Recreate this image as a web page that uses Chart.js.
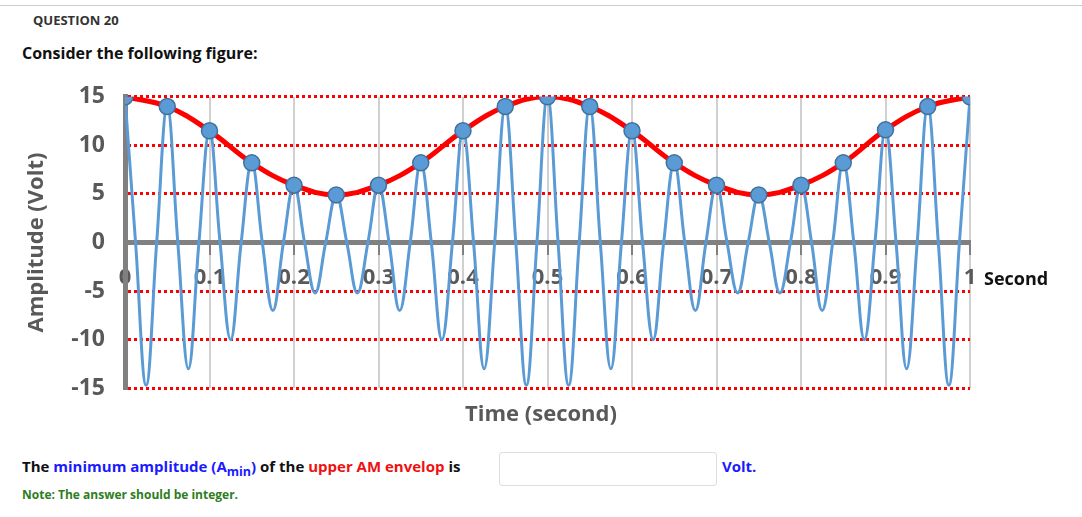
<!DOCTYPE html>
<html><head><meta charset="utf-8">
<script src="https://cdn.jsdelivr.net/npm/chart.js@4.4.0/dist/chart.umd.min.js"></script>
<style>
body{margin:0;width:1082px;height:517px;background:#fff;font-family:"Open Sans",sans-serif;position:relative;overflow:hidden}
.topline{position:absolute;left:0;right:0;top:5px;border-top:1px solid #ccc}
.q{position:absolute;left:33px;top:11px;font-size:13px;font-weight:bold;color:#333}
.c{position:absolute;left:22px;top:42px;font-size:16px;font-weight:bold;color:#111}
#wrap{position:absolute;left:20px;top:63px;width:1062px;height:359px}
.xt{position:absolute;left:465px;top:397px;font-size:22px;font-weight:bold;color:#595959}
.ans{position:absolute;left:22px;top:456px;font-size:15px;font-weight:bold;color:#111}
.blue{color:#1a1aff}.red{color:#ee1111}
.box{position:absolute;left:499px;top:452px;width:216px;height:32px;border:1px solid #ddd;border-radius:3px}
.volt{position:absolute;left:722px;top:456px;font-size:15px;font-weight:bold;color:#1a1aff}
.note{position:absolute;left:22px;top:486px;font-size:12px;font-weight:bold;color:#2e7d1e}
</style></head><body>
<div class="topline"></div>
<div class="q">QUESTION 20</div>
<div class="c">Consider the following figure:</div>
<div id="wrap"><canvas id="chart"></canvas></div>
<div class="xt">Time (second)</div>
<div class="ans">The <span class="blue">minimum amplitude (A<sub>min</sub>)</span> of the <span class="red">upper AM envelop</span> is</div>
<div class="box"></div>
<div class="volt">Volt.</div>
<div class="note">Note: The answer should be integer.</div>
<script>
// огибающая (точки через 0.05 с)
const envTimes = [0,0.05,0.1,0.15,0.2,0.25,0.3,0.35,0.4,0.45,0.5,0.55,0.6,0.65,0.7,0.75,0.8,0.85,0.9,0.95,1];
const envValues = [15,14,11.5,8.2,5.9,4.9,5.9,8.2,11.5,14,15,14,11.5,8.2,5.9,4.9,5.9,8.2,11.6,14,15];
// несущая: пик, ноль, минимум, ноль ... шаг 0.0125 с
const sigTimes = [];
for (let i = 0; i <= 80; i++) sigTimes.push(i * 0.0125);
const sigValues = [
 15,0,-14.7,0, 14,0,-13,0, 11.5,0,-10,0, 8.2,0,-7,0, 5.9,0,-5.2,0,
 4.9,0,-5.2,0, 5.9,0,-7,0, 8.2,0,-10,0, 11.5,0,-13,0, 14,0,-14.7,0,
 15,0,-14.7,0, 14,0,-13,0, 11.5,0,-10,0, 8.2,0,-7,0, 5.9,0,-5.2,0,
 4.9,0,-5.2,0, 5.9,0,-7,0, 8.2,0,-10,0, 11.6,0,-13,0, 14,0,-14.7,0, 15];
const yTicks = [-15,-10,-5,0,5,10,15];

const secondLabel = {
  id: 'secondLabel',
  afterDraw(c) {
    const ctx = c.ctx, x = c.scales.x.getPixelForValue(1), y = c.scales.y.getPixelForValue(0);
    ctx.save();
    ctx.font = 'bold 18px "Open Sans"';
    ctx.fillStyle = '#111';
    ctx.textBaseline = 'middle';
    ctx.fillText('Second', x + 14, y + 37);
    ctx.restore();
  }
};

new Chart(document.getElementById('chart'), {
  type: 'line',
  data: {
    datasets: [
      {data: envTimes.map((t, i) => ({x: t, y: envValues[i]})), borderColor: '#ff0000', borderWidth: 5,
       pointRadius: 8, pointBackgroundColor: '#5b9bd5', pointBorderColor: '#41719c', pointBorderWidth: 1.5, tension: 0.4, order: 0},
      {data: sigTimes.map((t, i) => ({x: t, y: sigValues[i]})), borderColor: '#5b9bd5', borderWidth: 3,
       pointRadius: 0, tension: 0.4, order: 1}
    ]
  },
  options: {
    responsive: true, maintainAspectRatio: false, animation: false,
    layout: {padding: {top: 16, bottom: 10, right: 112, left: 0}},
    plugins: {legend: {display: false}, tooltip: {enabled: false}},
    scales: {
      x: {type: 'linear', min: 0, max: 1, position: {y: 0},
        afterFit(s) { s.height = 0; },
        grid: {color: '#d0d0d0', lineWidth: 2, drawTicks: true, tickLength: 10, tickColor: '#808080'},
        border: {color: '#808080', width: 5},
        ticks: {stepSize: 0.1, padding: 12, color: '#595959', font: {size: 22, weight: 'bold', family: 'Open Sans'},
          callback: v => Math.round(v * 10) / 10, maxRotation: 0}},
      y: {min: -15, max: 15,
        afterFit(s) { s.width = 105; },
        afterBuildTicks(s) { s.ticks = yTicks.map(v => ({value: v})); },
        grid: {color: c => c.tick.value === 0 ? 'rgba(0,0,0,0)' : '#ff0000', lineWidth: 3, drawTicks: false},
        border: {color: '#808080', width: 5, dash: [3, 3]},
        ticks: {padding: 20, color: '#595959', font: {size: 23, weight: 'bold', family: 'Open Sans'}},
        title: {display: true, text: 'Amplitude (Volt)', color: '#595959', font: {size: 22, weight: 'bold', family: 'Open Sans'}}}
    }
  },
  plugins: [secondLabel]
});
</script>
</body></html>
